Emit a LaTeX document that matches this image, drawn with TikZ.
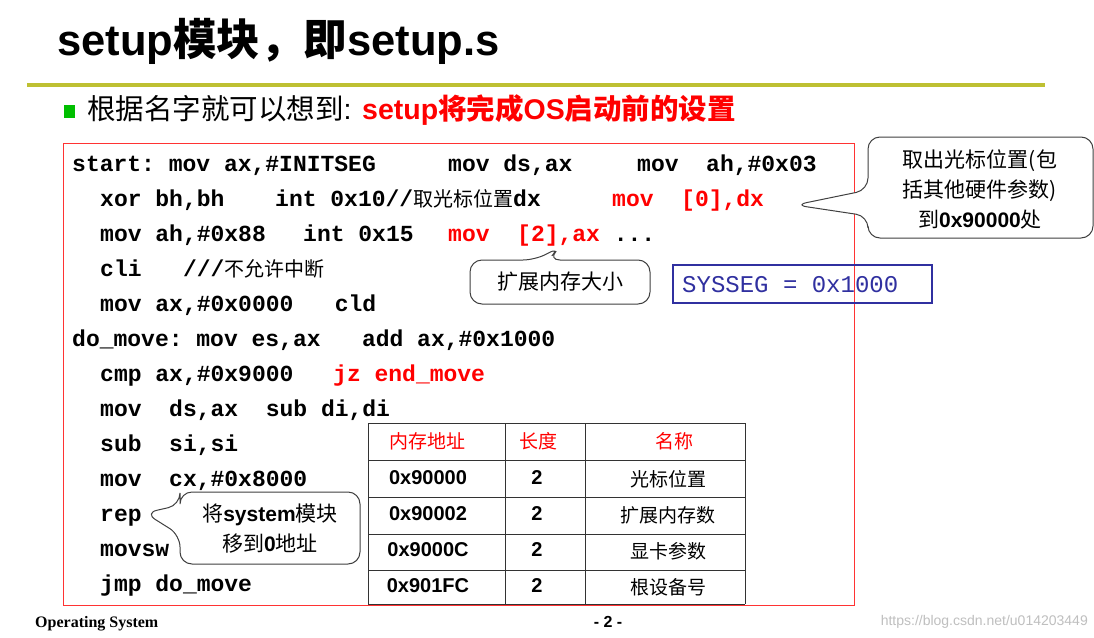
\documentclass[tikz,border=0pt]{standalone}
\usepackage{fontspec}
\setmainfont{Liberation Sans}
\setmonofont{Liberation Mono}
\newfontfamily\cjk{Noto Sans CJK SC}
\newfontfamily\tms{Liberation Serif}
\definecolor{olive}{RGB}{190,192,50}
\definecolor{rd}{RGB}{255,0,0}
\definecolor{bx}{RGB}{48,48,160}
\begin{document}
\begin{tikzpicture}[x=1pt,y=-1pt,
  code/.style={anchor=base west,inner sep=0,font=\ttfamily\bfseries\fontsize{23}{23}\selectfont},
  cell/.style={anchor=center,inner sep=0,font=\bfseries\fontsize{20}{20}\selectfont},
  ccell/.style={anchor=center,inner sep=0,font=\cjk\fontsize{19}{19}\selectfont},
  call/.style={draw=black!75,line width=1pt,rounded corners=12pt,fill=white},
  calltxt/.style={anchor=center,align=center,inner sep=0,font=\cjk\fontsize{21}{30}\selectfont}]
\useasboundingbox (0,0) rectangle (1094,637);
\fill[white] (0,0) rectangle (1094,637);
% title
\node[anchor=base west,inner sep=0,font=\bfseries\fontsize{43.5}{43.5}\selectfont] (title) at (57,55) {setup{\cjk 模块，即}setup.s};
\draw[olive,line width=4pt] (27,85) -- (1045,85);
\fill[green!75!black] (64,105) rectangle (75,118) coordinate (bul);
\node[anchor=base west,inner sep=0,font=\fontsize{28.5}{28.5}\selectfont] (sub) at (87,119) {{\cjk 根据名字就可以想到}: \textcolor{rd}{\bfseries setup{\cjk 将完成}OS{\cjk 启动前的设置}}};
% red frame
\draw[rd!80,line width=0.8pt] (63,143) rectangle (854,605);
% code
\node[code] (l1a) at (72,171) {start:~mov~ax,\#INITSEG};
\node[code] (l1b) at (448,171) {mov~ds,ax};
\node[code] (l1c) at (637,171) {mov~~ah,\#0x03};
\node[code] (l2a) at (100,206) {xor~bh,bh};
\node[code] (l2b) at (275,206) {int~0x10//{\cjk\mdseries\fontsize{20}{20}\selectfont 取光标位置}dx};
\node[code,text=rd] (l2c) at (612,206) {mov~~[0],dx};
\node[code] (l3a) at (100,241) {mov~ah,\#0x88};
\node[code] (l3b) at (303,241) {int~0x15};
\node[code] (l3c) at (448,241) {\textcolor{rd}{mov~~[2],ax}~...};
\node[code] (l4a) at (100,276) {cli~~~///{\cjk\mdseries\fontsize{20}{20}\selectfont 不允许中断}};
\node[code] (l5a) at (100,311) {mov~ax,\#0x0000~~~cld};
\node[code] (l6a) at (72,346) {do\_move:~mov~es,ax~~~add~ax,\#0x1000};
\node[code] (l7a) at (100,381) {cmp~ax,\#0x9000};
\node[code,text=rd] (l7b) at (333,381) {jz~end\_move};
\node[code] (l8a) at (100,416) {mov~~ds,ax~~sub~di,di};
\node[code] (l9a) at (100,451) {sub~~si,si};
\node[code] (l10a) at (100,486) {mov~~cx,\#0x8000};
\node[code] (l11a) at (100,521) {rep};
\node[code] (l12a) at (100,556) {movsw};
\node[code] (l13a) at (100,591) {jmp~do\_move};
% table
\fill[white] (368,423) rectangle (745,604);
\foreach \y in {423,460,497,534,570,604} \draw[black!80,line width=1pt] (368,\y) -- (745,\y);
\foreach \x in {368,505,585,745} \draw[black!80,line width=1pt] (\x,423) -- (\x,604);
\node[ccell,text=rd] (h1) at (427,441) {内存地址};
\node[ccell,text=rd] (h2) at (538,441) {长度};
\node[ccell,text=rd] (h3) at (674,441) {名称};
\foreach \a/\n [count=\i] in {0x90000/光标位置,0x90002/扩展内存数,0x9000C/显卡参数,0x901FC/根设备号}{
  \node[cell] (ad\i) at (428,442+\i*36) {\a};
  \node[cell] (ln\i) at (537,442+\i*36) {2};
  \node[ccell] (nm\i) at (668,443+\i*36) {\n};
}
% callouts
\draw[call] (868,137) -- (1093,137) -- (1093,238) -- (868,238) -- (868,216) -- (795,205) -- (868,190) -- cycle;
\node[calltxt] (c1) at (980,189) {取出光标位置(包\\括其他硬件参数)\\到{\rmfamily\bfseries 0x90000}处};
\draw[call] (470,260) -- (535,260) -- (560,247) -- (548,260) -- (650,260) -- (650,304) -- (470,304) -- cycle;
\node[calltxt] (c2) at (560,282) {扩展内存大小};
\draw[call] (180,492) -- (360,492) -- (360,564) -- (180,564) -- (180,535) -- (145,513) -- (180,505) -- cycle;
\node[calltxt] (c3) at (270,529) {将{\rmfamily\bfseries system}模块\\移到{\rmfamily\bfseries 0}地址};
\draw[bx,line width=2pt] (673,265) rectangle (932,303);
\node[code,text=bx,font=\ttfamily\fontsize{24}{24}\selectfont] (sys) at (682,292) {SYSSEG~=~0x1000};
% footer
\node[anchor=base west,inner sep=0,font=\tms\bfseries\fontsize{16}{16}\selectfont] (foot) at (35,627) {Operating System};
\node[anchor=base,inner sep=0,font=\bfseries\fontsize{16}{16}\selectfont] (pg) at (608,627) {- 2 -};
\node[anchor=base east,inner sep=0,text=black!25,font=\fontsize{14}{14}\selectfont] (wm) at (1088,625) {https://blog.csdn.net/u014203449};
\end{tikzpicture}
\end{document}
